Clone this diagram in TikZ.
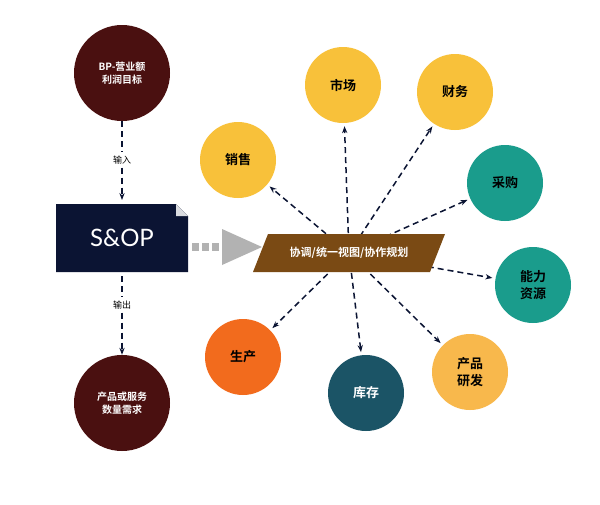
\documentclass[tikz,border=0pt]{standalone}
\usepackage{fontspec}
\setmainfont{Noto Sans CJK SC}[BoldFont={Noto Sans CJK SC Bold}]
\setsansfont{Lato}
\usetikzlibrary{arrows.meta}
\definecolor{maroon}{HTML}{4A1010}
\definecolor{navy}{HTML}{0B1433}
\definecolor{brownp}{HTML}{7A4A14}
\definecolor{yel}{HTML}{F8C13A}
\definecolor{teal1}{HTML}{1A9C8C}
\definecolor{teal2}{HTML}{1B5466}
\definecolor{orng}{HTML}{F26B1D}
\definecolor{oy}{HTML}{F8B84C}
\tikzset{
 bigc/.style={circle,fill=maroon,minimum size=96pt,inner sep=0,text=white,font=\bfseries\fontsize{10}{13}\selectfont,align=center},
 sc/.style={circle,minimum size=76pt,inner sep=0,text=black,font=\bfseries\fontsize{13}{17}\selectfont,align=center},
 da/.style={line width=1.5pt,-{Stealth[length=7pt]},draw=navy,dash pattern=on 6pt off 4pt},
 lab/.style={font=\fontsize{9}{11}\selectfont}
}
\begin{document}
\begin{tikzpicture}[x=1pt,y=-1pt]
\useasboundingbox[fill=white] (0,0) rectangle (600,504);
\node[bigc] (bp) at (122,73) {BP-营业额\\利润目标};
\node[bigc] (dem) at (122,403) {产品或服务\\数量需求};
\fill[navy] (56,204) -- (176,204) -- (188,216) -- (188,272) -- (56,272) -- cycle;
\fill[white!85!navy] (176,204) -- (188,216) -- (176,216) -- cycle;
\node[text=white,font=\sffamily\fontsize{24}{26}\selectfont] (sop) at (122,238) {S\&OP};
\coordinate (sopt) at (122,200);
\coordinate (sopb) at (122,276);
\node[lab] (in) at (122,160) {输入};
\node[lab] (out) at (122,305) {输出};
\draw[da,-] (bp.south) -- (in.north);
\draw[da] (in.south) -- (sopt);
\draw[da,-] (sopb) -- (out.north);
\draw[da] (out.south) -- (dem.north);
\draw[gray!60,line width=8pt,dash pattern=on 7pt off 3pt] (192,247) -- (224,247);
\fill[gray!60] (222,229) -- (262,247) -- (222,265) -- cycle;
\node[sc,fill=yel] (xs) at (238,160) {销售};
\node[sc,fill=yel] (sc1) at (343,85) {市场};
\node[sc,fill=yel] (cw) at (455,92) {财务};
\node[sc,fill=teal1] (cg) at (505,183) {采购};
\node[sc,fill=teal1] (nl) at (533,285) {能力\\资源};
\node[sc,fill=oy] (cp) at (470,372) {产品\\研发};
\node[sc,fill=teal2,text=white] (kc) at (366,393) {库存};
\node[sc,fill=orng] (sc2) at (243,357) {生产};
\coordinate (hub) at (349,253);
\foreach \t in {xs,sc1,cw,cg,nl,cp,kc,sc2}
  \draw[da,shorten >=3pt] (hub) -- (\t);
\fill[brownp] (268,234) -- (445,234) -- (430,272) -- (253,272) -- cycle;
\node[text=white,font=\bfseries\fontsize{11}{13}\selectfont] (hubt) at (hub) {协调/统一视图/协作规划};
\end{tikzpicture}
\end{document}
